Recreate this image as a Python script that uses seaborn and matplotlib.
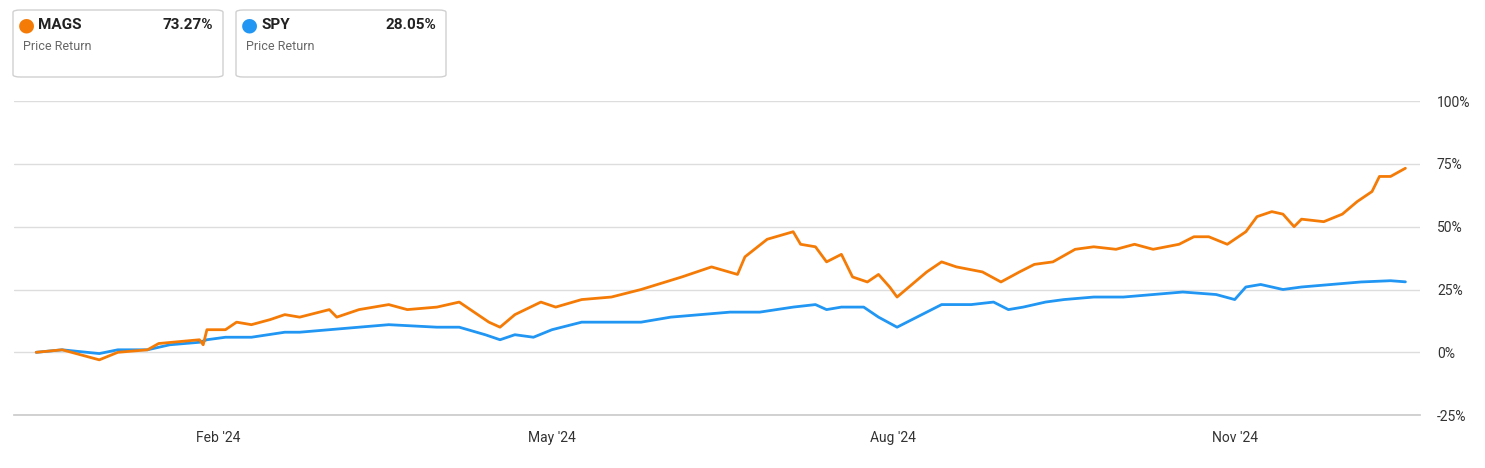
import pandas as pd
import matplotlib.pyplot as plt
import matplotlib.dates as mdates
from matplotlib.patches import FancyBboxPatch
from matplotlib.ticker import FixedLocator
import seaborn as sns

sns.set_theme(style="white")
plt.rcParams["font.family"] = ["Roboto", "DejaVu Sans"]

MAGS_COLOR = "#f57b07"
SPY_COLOR = "#2196f3"

mags_dates = ["2023-12-14", "2023-12-21", "2023-12-31", "2024-01-05", "2024-01-13", "2024-01-16",
              "2024-01-27", "2024-01-28", "2024-01-29", "2024-02-03", "2024-02-06", "2024-02-10",
              "2024-02-15", "2024-02-19", "2024-02-23", "2024-03-02", "2024-03-04", "2024-03-10",
              "2024-03-18", "2024-03-23", "2024-03-31", "2024-04-06", "2024-04-09", "2024-04-14",
              "2024-04-17", "2024-04-21", "2024-04-28", "2024-05-02", "2024-05-09", "2024-05-17",
              "2024-05-25", "2024-06-05", "2024-06-13", "2024-06-20", "2024-06-22", "2024-06-28",
              "2024-07-05", "2024-07-07", "2024-07-11", "2024-07-14", "2024-07-18", "2024-07-21",
              "2024-07-25", "2024-07-28", "2024-07-31", "2024-08-02", "2024-08-06", "2024-08-10",
              "2024-08-14", "2024-08-18", "2024-08-25", "2024-08-30", "2024-09-04", "2024-09-08",
              "2024-09-13", "2024-09-19", "2024-09-24", "2024-09-30", "2024-10-05", "2024-10-10",
              "2024-10-17", "2024-10-21", "2024-10-25", "2024-10-30", "2024-11-04", "2024-11-07",
              "2024-11-11", "2024-11-14", "2024-11-17", "2024-11-19", "2024-11-25", "2024-11-30",
              "2024-12-04", "2024-12-08", "2024-12-10", "2024-12-13", "2024-12-17"]
mags_values = [0, 1, -3, 0, 1, 3.5,
               5, 3, 9, 9, 12, 11,
               13, 15, 14, 17, 14, 17,
               19, 17, 18, 20, 17, 12,
               10, 15, 20, 18, 21, 22,
               25, 30, 34, 31, 38, 45,
               48, 43, 42, 36, 39, 30,
               28, 31, 26, 22, 27, 32,
               36, 34, 32, 28, 32, 35,
               36, 41, 42, 41, 43, 41,
               43, 46, 46, 43, 48, 54,
               56, 55, 50, 53, 52, 55,
               60, 64, 70, 70, 73.27]

spy_dates = ["2023-12-14", "2023-12-21", "2023-12-31", "2024-01-05", "2024-01-13", "2024-01-19",
             "2024-01-27", "2024-01-29", "2024-02-03", "2024-02-10", "2024-02-19", "2024-02-23",
             "2024-03-02", "2024-03-10", "2024-03-18", "2024-03-31", "2024-04-06", "2024-04-13",
             "2024-04-17", "2024-04-21", "2024-04-26", "2024-05-01", "2024-05-09", "2024-05-17",
             "2024-05-25", "2024-06-02", "2024-06-10", "2024-06-18", "2024-06-26", "2024-07-05",
             "2024-07-11", "2024-07-14", "2024-07-18", "2024-07-24", "2024-07-28", "2024-08-02",
             "2024-08-06", "2024-08-10", "2024-08-14", "2024-08-22", "2024-08-28", "2024-09-01",
             "2024-09-05", "2024-09-11", "2024-09-16", "2024-09-24", "2024-10-02", "2024-10-10",
             "2024-10-18", "2024-10-27", "2024-11-01", "2024-11-04", "2024-11-08", "2024-11-14",
             "2024-11-19", "2024-11-27", "2024-12-05", "2024-12-13", "2024-12-17"]
spy_values = [0, 1, -0.5, 1, 1, 3,
              4, 5, 6, 6, 8, 8,
              9, 10, 11, 10, 10, 7,
              5, 7, 6, 9, 12, 12,
              12, 14, 15, 16, 16, 18,
              19, 17, 18, 18, 14, 10,
              13, 16, 19, 19, 20, 17,
              18, 20, 21, 22, 22, 23,
              24, 23, 21, 26, 27, 25,
              26, 27, 28, 28.5, 28.05]

mags = pd.DataFrame({"date": pd.to_datetime(mags_dates), "value": mags_values})
spy = pd.DataFrame({"date": pd.to_datetime(spy_dates), "value": spy_values})

fig = plt.figure(figsize=(14.85, 4.68), dpi=100)
ax = fig.add_axes([0.0094, 0.113, 0.947, 0.671])

sns.lineplot(data=spy, x="date", y="value", ax=ax, color=SPY_COLOR, linewidth=2)
sns.lineplot(data=mags, x="date", y="value", ax=ax, color=MAGS_COLOR, linewidth=2)

ax.set_xlim(pd.Timestamp("2023-12-08"), pd.Timestamp("2024-12-21"))
ax.set_ylim(-25, 100)
ax.yaxis.set_major_locator(FixedLocator([-25, 0, 25, 50, 75, 100]))
ax.yaxis.tick_right()
ax.set_yticklabels(["-25%", "0%", "25%", "50%", "75%", "100%"], color="#333333", fontsize=10)
ax.grid(axis="y", color="#dddddd", linewidth=1)
ax.set_xticks(pd.to_datetime(["2024-02-01", "2024-05-01", "2024-08-01", "2024-11-01"]))
ax.xaxis.set_major_formatter(mdates.DateFormatter("%b '%y"))
ax.tick_params(axis="x", length=8, color="#cccccc", labelsize=10, labelcolor="#333333", direction="out")
ax.tick_params(axis="y", length=0, pad=12)
ax.set_xlabel("")
ax.set_ylabel("")
for side in ["top", "left", "right"]:
    ax.spines[side].set_visible(False)
ax.spines["bottom"].set_color("#cccccc")

# legend cards
cards = [("MAGS", "73.27%", MAGS_COLOR, 13), ("SPY", "28.05%", SPY_COLOR, 236)]
for name, pct, color, x0 in cards:
    W, H = 1485, 468
    box = FancyBboxPatch((x0 / W, (H - 77) / H), 210 / W, 67 / H,
                         boxstyle="round,pad=0,rounding_size=0.005",
                         transform=fig.transFigure, facecolor="white",
                         edgecolor="#d0d0d0", linewidth=1)
    fig.patches.append(box)
    fig.text((x0 + 13) / W, (H - 25) / H, "●", color=color, fontsize=14, va="center", ha="center")
    fig.text((x0 + 25) / W, (H - 25) / H, name, fontsize=11, weight="bold", va="center", color="#222222")
    fig.text((x0 + 200) / W, (H - 25) / H, pct, fontsize=11, weight="bold", va="center", ha="right", color="#222222")
    fig.text((x0 + 10) / W, (H - 47) / H, "Price Return", fontsize=9, va="center", color="#666666")

fig.savefig("out.png", dpi=100)
